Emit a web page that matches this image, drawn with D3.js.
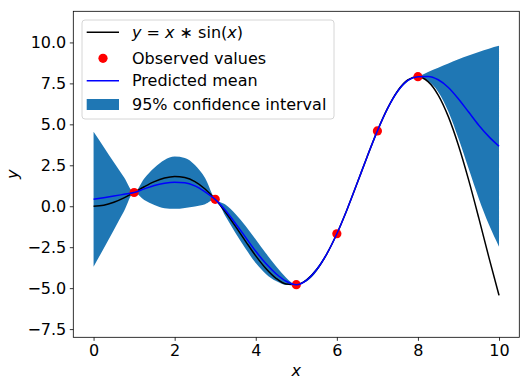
<!DOCTYPE html>
<html>
<head>
<meta charset="utf-8">
<script src="https://cdn.jsdelivr.net/npm/d3@7"></script>
<style>
  body { margin: 0; background: #fff; }
  svg text { font-family: "DejaVu Sans", sans-serif; }
</style>
</head>
<body>
<svg id="chart" width="530" height="385"></svg>
<script>
// sample positions along x
const xs = [0, 0.25, 0.5, 0.75, 1, 1.25, 1.5, 1.75, 2, 2.25, 2.5, 2.75, 3, 3.25, 3.5, 3.75, 4,
  4.25, 4.5, 4.75, 5, 5.25, 5.5, 5.75, 6, 6.25, 6.5, 6.75, 7, 7.25, 7.5, 7.75, 8,
  8.25, 8.5, 8.75, 9, 9.25, 9.5, 9.75, 10];

// true function y = x*sin(x)
const trueY = [0, 0.06, 0.24, 0.51, 0.84, 1.19, 1.50, 1.72, 1.82, 1.75, 1.50, 1.05, 0.42,
  -0.35, -1.23, -2.14, -3.03, -3.80, -4.40, -4.75, -4.79, -4.51, -3.88, -2.92, -1.68,
  -0.21, 1.40, 3.04, 4.60, 5.97, 7.04, 7.71, 7.91, 7.61, 6.79, 5.47, 3.71, 1.61,
  -0.71, -3.12, -5.44];

// predicted mean (blue)
const meanY = [0.43, 0.52, 0.62, 0.73, 0.84, 1.06, 1.27, 1.40, 1.46, 1.43, 1.24, 0.88, 0.42,
  -0.25, -1.05, -1.90, -2.75, -3.50, -4.12, -4.58, -4.79, -4.52, -3.88, -2.92, -1.68,
  -0.21, 1.40, 3.04, 4.60, 5.96, 7.02, 7.68, 7.91, 7.92, 7.72, 7.25, 6.55, 5.75,
  4.95, 4.25, 3.66];

// 95% confidence band
const upperY = [4.55, 3.62, 2.69, 1.77, 0.84, 1.70, 2.35, 2.82, 3.03, 2.95, 2.52, 1.72, 0.42,
  0.10, -0.47, -1.20, -2.03, -2.87, -3.67, -4.36, -4.79, -4.44, -3.78, -2.86, -1.68,
  -0.18, 1.44, 3.07, 4.60, 6.01, 7.10, 7.74, 7.91, 8.20, 8.46, 8.72, 8.97, 9.20,
  9.42, 9.62, 9.79];
const lowerY = [-3.69, -2.58, -1.45, -0.31, 0.84, 0.38, 0.08, -0.12, -0.16, -0.10, -0.02, 0.12, 0.42,
  -0.60, -1.63, -2.60, -3.47, -4.13, -4.57, -4.80, -4.79, -4.60, -3.98, -2.98, -1.68,
  -0.24, 1.36, 3.01, 4.60, 5.91, 6.94, 7.62, 7.91, 7.64, 6.98, 5.78, 4.13, 2.30,
  0.48, -1.12, -2.47];

// observations (red dots)
const obsX = [1, 3, 5, 6, 7, 8];
const obsY = [0.84, 0.42, -4.79, -1.68, 4.60, 7.91];

const xTicks = [0, 2, 4, 6, 8, 10];
const yTicks = [-7.5, -5, -2.5, 0, 2.5, 5, 7.5, 10];

const svg = d3.select("#chart");
const margin = { left: 73.3, right: 10.7, top: 11.3, bottom: 47.7 };
const W = 530, H = 385;

const x = d3.scaleLinear().domain([-0.5, 10.5]).range([margin.left, W - margin.right]);
const y = d3.scaleLinear().domain([-8, 11.9]).range([H - margin.bottom, margin.top]);

const pts = xs.map((v, i) => ({ x: v, t: trueY[i], m: meanY[i], lo: lowerY[i], hi: upperY[i] }));

// confidence band
svg.append("path")
  .datum(pts)
  .attr("fill", "#1f77b4")
  .attr("d", d3.area()
    .x(d => x(d.x))
    .y0(d => y(d.lo))
    .y1(d => y(d.hi))
    .curve(d3.curveMonotoneX));

// true function
svg.append("path")
  .datum(pts)
  .attr("fill", "none")
  .attr("stroke", "black")
  .attr("stroke-width", 1.5)
  .attr("d", d3.line().x(d => x(d.x)).y(d => y(d.t)).curve(d3.curveMonotoneX));

// observations
svg.append("g").selectAll("circle")
  .data(obsX)
  .join("circle")
  .attr("cx", d => x(d))
  .attr("cy", (d, i) => y(obsY[i]))
  .attr("r", 4.6)
  .attr("fill", "red");

// predicted mean
svg.append("path")
  .datum(pts)
  .attr("fill", "none")
  .attr("stroke", "blue")
  .attr("stroke-width", 1.5)
  .attr("d", d3.line().x(d => x(d.x)).y(d => y(d.m)).curve(d3.curveMonotoneX));

// axes
const fmtY = d => d3.format(".1f")(d).replace("-", "\u2212");
const xAxis = svg.append("g")
  .attr("transform", `translate(0,${H - margin.bottom})`)
  .call(d3.axisBottom(x).tickValues(xTicks).tickSize(3.5).tickPadding(3.5).tickSizeOuter(0));
const yAxis = svg.append("g")
  .attr("transform", `translate(${margin.left},0)`)
  .call(d3.axisLeft(y).tickValues(yTicks).tickFormat(fmtY).tickSize(3.5).tickPadding(3.5).tickSizeOuter(0));
[xAxis, yAxis].forEach(a => {
  a.selectAll("text").attr("font-size", 16).attr("fill", "black").attr("font-family", "DejaVu Sans");
  a.selectAll("line").attr("stroke", "black").attr("stroke-width", 0.8);
  a.select(".domain").remove();
});

// frame
svg.append("rect")
  .attr("x", margin.left).attr("y", margin.top)
  .attr("width", W - margin.left - margin.right)
  .attr("height", H - margin.top - margin.bottom)
  .attr("fill", "none").attr("stroke", "black").attr("stroke-width", 0.8);

// axis labels
svg.append("text")
  .attr("x", (margin.left + W - margin.right) / 2).attr("y", 376)
  .attr("text-anchor", "middle").attr("font-size", 16).attr("font-style", "italic")
  .text("x");
svg.append("text")
  .attr("transform", `translate(18,${(margin.top + H - margin.bottom) / 2}) rotate(-90)`)
  .attr("text-anchor", "middle").attr("font-size", 16).attr("font-style", "italic")
  .text("y");

// legend
const lg = svg.append("g");
lg.append("rect")
  .attr("x", 82).attr("y", 20).attr("width", 252).attr("height", 99).attr("rx", 3)
  .attr("fill", "white").attr("fill-opacity", 0.8)
  .attr("stroke", "#cccccc").attr("stroke-width", 0.8);

const rows = [32.3, 58.3, 80.7, 104.5];
lg.append("line").attr("x1", 86.7).attr("x2", 119).attr("y1", rows[0]).attr("y2", rows[0])
  .attr("stroke", "black").attr("stroke-width", 1.5);
lg.append("circle").attr("cx", 103).attr("cy", rows[1]).attr("r", 4.6).attr("fill", "red");
lg.append("line").attr("x1", 86.7).attr("x2", 119).attr("y1", rows[2]).attr("y2", rows[2])
  .attr("stroke", "blue").attr("stroke-width", 1.5);
lg.append("rect").attr("x", 86.7).attr("y", rows[3] - 5.5).attr("width", 32.3).attr("height", 11)
  .attr("fill", "#1f77b4");

const t0 = lg.append("text").attr("x", 132).attr("y", rows[0]).attr("dy", "0.35em").attr("font-size", 16);
t0.append("tspan").attr("font-style", "italic").text("y");
t0.append("tspan").text(" = ");
t0.append("tspan").attr("font-style", "italic").text("x");
t0.append("tspan").text(" \u2217 sin(");
t0.append("tspan").attr("font-style", "italic").text("x");
t0.append("tspan").text(")");

const labels = ["Observed values", "Predicted mean", "95% confidence interval"];
labels.forEach((s, i) => {
  lg.append("text").attr("x", 132).attr("y", rows[i + 1]).attr("dy", "0.35em")
    .attr("font-size", 16).text(s);
});
</script>
</body>
</html>
